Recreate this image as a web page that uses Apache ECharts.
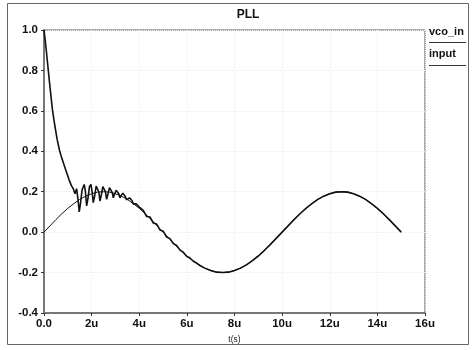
<!DOCTYPE html>
<html>
<head>
<meta charset="utf-8">
<script src="https://cdn.jsdelivr.net/npm/echarts@6/dist/echarts.min.js"></script>
<style>
  html, body { margin: 0; padding: 0; background: #fff; }
  #chart { width: 474px; height: 350px; }
</style>
</head>
<body>
<div id="chart"></div>
<script>
// ---- data (time in microseconds) ----
var title = 'PLL';
var xName = 't(s)';
var seriesNames = ['vco_in', 'input'];
var xTicks = [0, 2, 4, 6, 8, 10, 12, 14, 16];
var yTicks = [-0.4, -0.2, 0.0, 0.2, 0.4, 0.6, 0.8, 1.0];

var tVco = [0, 0.05, 0.1, 0.18, 0.25, 0.35, 0.45, 0.55, 0.65, 0.75, 0.85, 0.95, 1.05, 1.15,
  1.23, 1.30, 1.37, 1.43, 1.48, 1.53, 1.60, 1.69, 1.74, 1.79, 1.85, 1.91, 1.97, 2.02, 2.07,
  2.13, 2.19, 2.25, 2.30, 2.35, 2.41, 2.47, 2.53, 2.58, 2.63, 2.69, 2.75, 2.82, 2.87, 2.91,
  2.97, 3.03, 3.09, 3.14, 3.19, 3.25, 3.31, 3.37, 3.42, 3.47, 3.53, 3.59, 3.65, 3.70, 3.75,
  3.81, 3.87, 3.94, 3.99, 4.03, 4.17, 4.31, 4.45, 4.59, 4.73, 4.87, 5.01, 5.15, 5.29, 5.43,
  5.57, 5.71, 5.85, 5.99, 6.13, 6.27, 6.41, 6.55, 6.75, 7.0, 7.25, 7.5, 7.75, 8.0, 8.25,
  8.5, 8.75, 9.0, 9.25, 9.5, 9.75, 10.0, 10.25, 10.5, 10.75, 11.0, 11.25, 11.5, 11.75, 12.0,
  12.25, 12.5, 12.75, 13.0, 13.25, 13.5, 13.75, 14.0, 14.25, 14.5, 14.75, 15.0];
var vcoIn = [1.0, 0.95, 0.895, 0.80, 0.72, 0.61, 0.53, 0.46, 0.405, 0.365, 0.33, 0.295, 0.26, 0.23,
  0.215, 0.19, 0.215, 0.16, 0.10, 0.14, 0.21, 0.236, 0.20, 0.13, 0.17, 0.225, 0.236, 0.20, 0.146,
  0.18, 0.228, 0.236, 0.20, 0.154, 0.185, 0.225, 0.231, 0.20, 0.162, 0.19, 0.22, 0.225, 0.195, 0.17,
  0.19, 0.207, 0.21, 0.19, 0.17, 0.183, 0.193, 0.195, 0.175, 0.16, 0.165, 0.17, 0.17, 0.155, 0.14,
  0.14, 0.14, 0.137, 0.125, 0.116, 0.108, 0.077, 0.075, 0.045, 0.040, 0.011, 0.004, -0.024, -0.032, -0.057,
  -0.066, -0.089, -0.099, -0.119, -0.128, -0.144, -0.153, -0.165, -0.178, -0.190, -0.198, -0.200, -0.198, -0.190, -0.178,
  -0.162, -0.141, -0.118, -0.091, -0.062, -0.031, 0.0, 0.031, 0.062, 0.091, 0.118, 0.141, 0.162, 0.178, 0.190,
  0.198, 0.200, 0.198, 0.190, 0.178, 0.162, 0.141, 0.118, 0.091, 0.062, 0.031, 0.0];

var tInput = [0, 0.25, 0.5, 0.75, 1, 1.25, 1.5, 1.75, 2, 2.25, 2.5, 2.75, 3, 3.25, 3.5, 3.75,
  4, 4.25, 4.5, 4.75, 5, 5.25, 5.5, 5.75, 6, 6.25, 6.5, 6.75, 7, 7.25, 7.5, 7.75,
  8, 8.25, 8.5, 8.75, 9, 9.25, 9.5, 9.75, 10, 10.25, 10.5, 10.75, 11, 11.25, 11.5, 11.75,
  12, 12.25, 12.5, 12.75, 13, 13.25, 13.5, 13.75, 14, 14.25, 14.5, 14.75, 15];
var input = [0, 0.031, 0.062, 0.091, 0.118, 0.141, 0.162, 0.178, 0.190, 0.198, 0.200, 0.198, 0.190, 0.178, 0.162, 0.141,
  0.118, 0.091, 0.062, 0.031, 0, -0.031, -0.062, -0.091, -0.118, -0.141, -0.162, -0.178, -0.190, -0.198, -0.200, -0.198,
  -0.190, -0.178, -0.162, -0.141, -0.118, -0.091, -0.062, -0.031, 0, 0.031, 0.062, 0.091, 0.118, 0.141, 0.162, 0.178,
  0.190, 0.198, 0.200, 0.198, 0.190, 0.178, 0.162, 0.141, 0.118, 0.091, 0.062, 0.031, 0];

function pairs(xs, ys) { return xs.map(function (x, i) { return [x, ys[i]]; }); }

var FONT = 'Liberation Sans, Arial, sans-serif';
var chart = echarts.init(document.getElementById('chart'), null, { renderer: 'canvas' });
chart.setOption({
  animation: false,
  backgroundColor: '#fff',
  title: {
    text: title, left: 243, top: 4, textAlign: 'center',
    textStyle: { fontFamily: FONT, fontWeight: 'bold', fontSize: 12, color: '#111' }
  },
  grid: { left: 44, right: 49, top: 30, bottom: 37, show: true, borderColor: '#555', borderWidth: 1, backgroundColor: 'transparent' },
  xAxis: {
    type: 'value', min: xTicks[0], max: xTicks[xTicks.length - 1], interval: 2,
    name: xName, nameLocation: 'middle', nameGap: 19,
    nameTextStyle: { fontFamily: FONT, fontSize: 8.5, color: '#222' },
    axisLine: { onZero: false, lineStyle: { color: '#777', width: 2 } },
    axisTick: { show: true, length: 3, lineStyle: { color: '#333' } },
    axisLabel: {
      margin: 5, fontFamily: FONT, fontWeight: 'bold', fontSize: 11.5, color: '#111',
      formatter: function (v) { return v === 0 ? '0.0' : v + 'u'; }
    },
    splitLine: { show: true, lineStyle: { color: '#ececec', type: 'dotted' } }
  },
  yAxis: {
    type: 'value', min: yTicks[0], max: yTicks[yTicks.length - 1], interval: 0.2,
    axisLine: { show: true, onZero: false, lineStyle: { color: '#777', width: 2 } },
    axisTick: { show: true, length: 3, lineStyle: { color: '#333' } },
    axisLabel: {
      margin: 6, fontFamily: FONT, fontWeight: 'bold', fontSize: 11.5, color: '#111',
      formatter: function (v) { return (Math.round(v * 10) / 10).toFixed(1); }
    },
    splitLine: { show: true, lineStyle: { color: '#ececec', type: 'dotted' } }
  },
  series: [
    { name: seriesNames[0], type: 'line', data: pairs(tVco, vcoIn), showSymbol: false,
      lineStyle: { color: '#111', width: 1.6 }, z: 3 },
    { name: seriesNames[1], type: 'line', data: pairs(tInput, input), showSymbol: false,
      lineStyle: { color: '#111', width: 1 }, z: 2 }
  ],
  graphic: [
    { type: 'rect', shape: { x: 7.5, y: 3.5, width: 461, height: 341 }, style: { fill: 'none', stroke: '#666', lineWidth: 1 }, silent: true },
    { type: 'text', left: 429, top: 26, style: { text: seriesNames[0], font: 'bold 11px ' + FONT, fill: '#111' } },
    { type: 'line', shape: { x1: 429, y1: 42.5, x2: 466, y2: 42.5 }, style: { stroke: '#333', lineWidth: 1 } },
    { type: 'text', left: 429, top: 48, style: { text: seriesNames[1], font: 'bold 11px ' + FONT, fill: '#111' } },
    { type: 'line', shape: { x1: 429, y1: 65.5, x2: 466, y2: 65.5 }, style: { stroke: '#333', lineWidth: 1 } }
  ]
});
</script>
</body>
</html>
